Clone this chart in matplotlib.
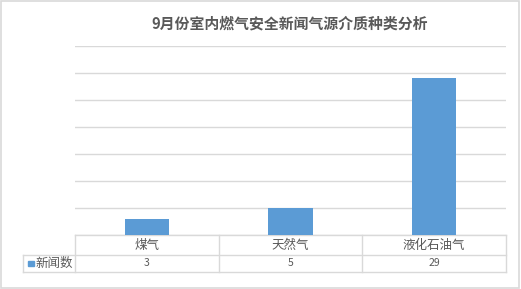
import matplotlib
matplotlib.use("Agg")
import matplotlib.pyplot as plt
from matplotlib.patches import Rectangle

plt.rcParams['font.family'] = ['Noto Sans CJK SC', 'DejaVu Sans']

title = "9月份室内燃气安全新闻气源介质种类分析"
categories = ["煤气", "天然气", "液化石油气"]
series_name = "新闻数"
values = [3, 5, 29]

bar_color = "#5b9bd5"
text_color = "#595959"
line_color = "#d9d9d9"

fig = plt.figure(figsize=(5.21, 2.89), dpi=100)
fig.patch.set_facecolor("white")
fig.patches.append(Rectangle((0.001, 0.002), 0.996, 0.994, transform=fig.transFigure,
                             fill=False, edgecolor=line_color, linewidth=1.2))

ax = fig.add_axes([75 / 521, (289 - 235) / 289, 431 / 521, 189 / 289])
x = list(range(len(categories)))
ax.bar(x, values, width=0.31, color=bar_color, zorder=3)
ax.set_xlim(-0.5, len(categories) - 0.5)
ax.set_ylim(0, 35)
ax.set_yticks(range(0, 36, 5))
ax.yaxis.grid(True, color=line_color, linewidth=1)
ax.set_axisbelow(True)
ax.tick_params(left=False, bottom=False, labelleft=False, labelbottom=False)
for s in ax.spines.values():
    s.set_visible(False)

fig.text(290 / 521, 1 - 23 / 289, title, ha="center", va="center",
         fontsize=10.7, fontweight="bold", color=text_color)

# data table under the plot
tr = ax.get_xaxis_transform()
left = -0.5 - 52 / 143.7
r1 = -20 / 189
r2 = -37 / 189
n = len(categories)
kw = dict(transform=tr, clip_on=False, color=line_color, linewidth=1)
ax.plot([-0.5, n - 0.5], [0, 0], **kw)
ax.plot([left, n - 0.5], [r1, r1], **kw)
ax.plot([left, n - 0.5], [r2, r2], **kw)
ax.plot([left, left], [r1, r2], **kw)
for i in range(n + 1):
    ax.plot([i - 0.5, i - 0.5], [0, r2], **kw)

for i, (c, v) in enumerate(zip(categories, values)):
    ax.text(i, r1 / 2, c, transform=tr, ha="center", va="center",
            fontsize=9, color=text_color)
    ax.text(i, (r1 + r2) / 2, str(v), transform=tr, ha="center", va="center",
            fontsize=7.5, color=text_color)

ax.add_patch(Rectangle((left + 5 / 143.7, (r1 + r2) / 2 - 2.5 / 189), 5.5 / 143.7, 5 / 189,
                       transform=tr, clip_on=False, color=bar_color))
ax.text(left + 12 / 143.7, (r1 + r2) / 2, series_name, transform=tr, ha="left",
        va="center", fontsize=9, color=text_color)

fig.savefig("out.png", dpi=100, facecolor="white")
